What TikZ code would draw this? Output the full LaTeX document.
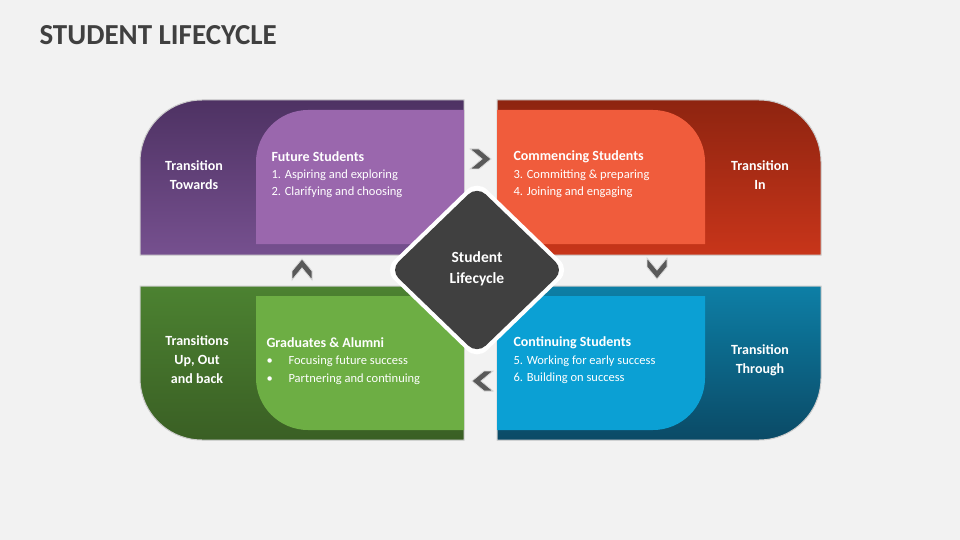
\documentclass[tikz,border=0pt]{standalone}
\usepackage{fontspec}
\setmainfont{Carlito}
\begin{document}
\begin{tikzpicture}[x=1pt,y=-1pt,
  outerbox/.style={draw=white!60!gray,line width=1pt},
  innerbox/.style={draw=none},
  sidetext/.style={text=white,font=\bfseries\fontsize{14}{19}\selectfont,align=center},
  head/.style={text=white,font=\bfseries\fontsize{14}{17}\selectfont,anchor=west},
  item/.style={text=white,font=\fontsize{12.5}{15}\selectfont,anchor=west},
  chev/.style={fill=black!65,draw=white!85!black,line width=0.8pt,line join=miter}]
\fill[black!5] (0,0) rectangle (960,540);
\useasboundingbox (0,0) rectangle (960,540);
\node[anchor=west,text=black!75,font=\bfseries\fontsize{29}{32}\selectfont] (title) at (36,35) {STUDENT LIFECYCLE};
% top-left
\definecolor{pd}{HTML}{4E3263}\definecolor{pl}{HTML}{76508F}\definecolor{pi}{HTML}{9A67AD}
\shade[top color=pd,bottom color=pl,outerbox] (140,255) [rounded corners=62pt] -- (140,100) [sharp corners] -- (464,100) -- (464,255) -- cycle;
\fill[pi] (256,244) [rounded corners=52pt] -- (256,110) [sharp corners] -- (464,110) -- (464,244) -- cycle;
% top-right
\definecolor{rd}{HTML}{8E2410}\definecolor{rl}{HTML}{C8351A}\definecolor{ri}{HTML}{F05C3C}
\shade[top color=rd,bottom color=rl,outerbox] (497,100) [rounded corners=62pt] -- (821,100) [sharp corners] -- (821,255) -- (497,255) -- cycle;
\fill[ri] (497,110) [rounded corners=52pt] -- (705,110) [sharp corners] -- (705,244) -- (497,244) -- cycle;
% bottom-left
\definecolor{gd}{HTML}{4C8231}\definecolor{gl}{HTML}{3A5F24}\definecolor{gi}{HTML}{6DAE44}
\shade[top color=gd,bottom color=gl,outerbox] (464,286) -- (140,286) [rounded corners=62pt] -- (140,440) [sharp corners] -- (464,440) -- cycle;
\fill[gi] (464,296) -- (256,296) [rounded corners=52pt] -- (256,430) [sharp corners] -- (464,430) -- cycle;
% bottom-right
\definecolor{bd}{HTML}{0D7FA6}\definecolor{bl}{HTML}{0B4A66}\definecolor{bi}{HTML}{0BA0D4}
\shade[top color=bd,bottom color=bl,outerbox] (497,286) -- (821,286) [rounded corners=62pt] -- (821,440) [sharp corners] -- (497,440) -- cycle;
\fill[bi] (497,296) -- (705,296) [rounded corners=52pt] -- (705,430) [sharp corners] -- (497,430) -- cycle;
% texts
\node[sidetext] (tt) at (194,175) {Transition\\Towards};
\node[head] (fs) at (268,157) {Future Students};
\node[item] (f1) at (268,175) {1. Aspiring and exploring};
\node[item] (f2) at (268,192) {2. Clarifying and choosing};
\node[sidetext] (ti) at (760,175) {Transition\\In};
\node[head] (cs) at (510,157) {Commencing Students};
\node[item] (c1) at (510,175) {3. Committing \& preparing};
\node[item] (c2) at (510,192) {4. Joining and engaging};
\node[sidetext] (tu) at (197,360) {Transitions\\Up, Out\\and back};
\node[head] (ga) at (263,343) {Graduates \& Alumni};
\node[item] (g1) at (263,361) {\makebox[22pt][l]{\textbullet}Focusing future success};
\node[item] (g2) at (263,379) {\makebox[22pt][l]{\textbullet}Partnering and continuing};
\node[sidetext] (th) at (760,360) {Transition\\Through};
\node[head] (cn) at (510,343) {Continuing Students};
\node[item] (n1) at (510,361) {5. Working for early success};
\node[item] (n2) at (510,378) {6. Building on success};
% diamond
\fill[white, rounded corners=14pt] (477,180) -- (570,270) -- (477,360) -- (384,270) -- cycle;
\fill[black!75, rounded corners=12pt] (477,186) -- (564,270) -- (477,354) -- (390,270) -- cycle;
\node[sidetext,font=\bfseries\fontsize{15.5}{21}\selectfont] (sl) at (477,269) {Student\\Lifecycle};
% chevrons
\draw[chev] (470,149) -- (479,149) -- (491,159) -- (479,169) -- (470,169) -- (482,159) -- cycle;
\draw[chev] (647,258) -- (647,267) -- (657,279) -- (667,267) -- (667,258) -- (657,270) -- cycle;
\draw[chev] (493,371) -- (484,371) -- (472,381) -- (484,391) -- (493,391) -- (481,381) -- cycle;
\draw[chev] (292,280) -- (292,271) -- (302,259) -- (312,271) -- (312,280) -- (302,268) -- cycle;
\end{tikzpicture}
\end{document}
